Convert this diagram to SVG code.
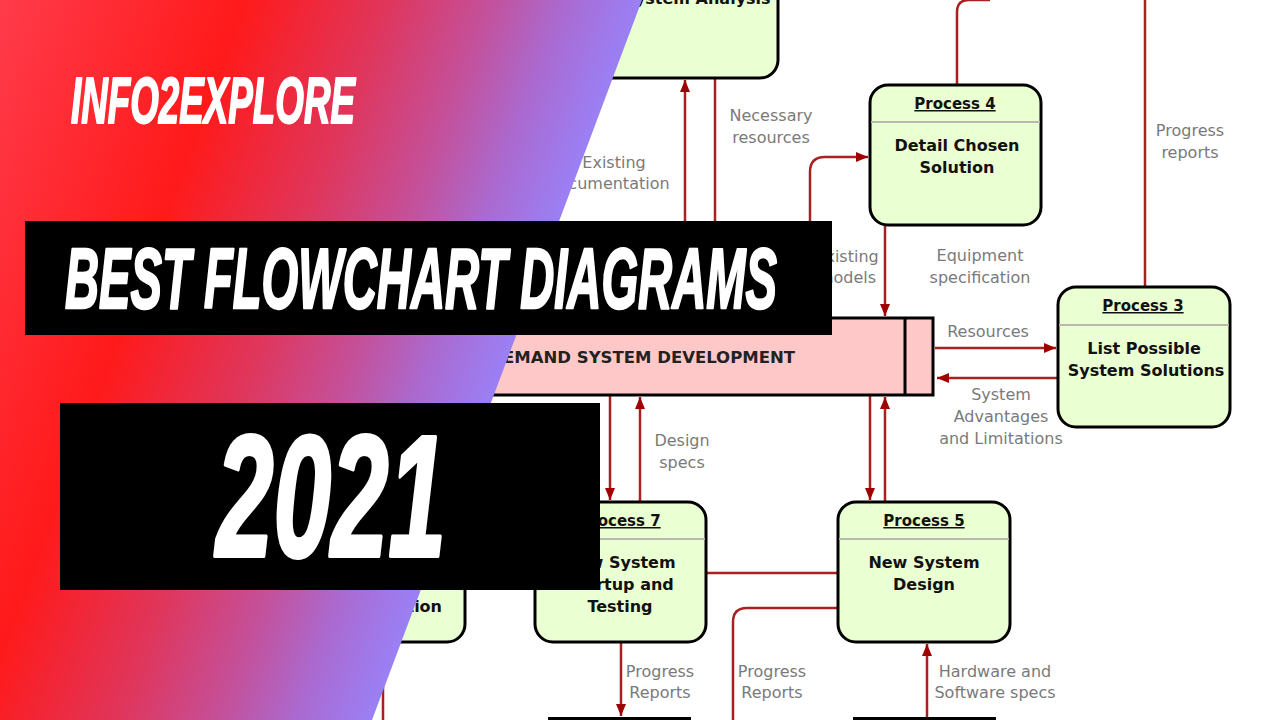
<svg xmlns="http://www.w3.org/2000/svg" width="1280" height="720" viewBox="0 0 1280 720">
<defs>
  <linearGradient id="bg" gradientUnits="userSpaceOnUse" x1="0" y1="0" x2="563" y2="211">
    <stop offset="0" stop-color="#ff3b4b"/>
    <stop offset="0.38" stop-color="#ff1a1a"/>
    <stop offset="0.6" stop-color="#e0355a"/>
    <stop offset="0.76" stop-color="#c4509a"/>
    <stop offset="0.88" stop-color="#aa6ad0"/>
    <stop offset="1" stop-color="#9a80f5"/>
  </linearGradient>
  <marker id="ah" viewBox="0 0 12 10" refX="12" refY="5" markerWidth="12" markerHeight="10" orient="auto" markerUnits="userSpaceOnUse">
    <path d="M0,0 L12,5 L0,10 z" fill="#a00000"/>
  </marker>
  <style>
    .box { fill:#eaffd2; stroke:#000; stroke-width:3; }
    .div { stroke:#b8b8b0; stroke-width:2; }
    .pt { font-family:"DejaVu Sans", sans-serif; font-weight:bold; font-size:16px; fill:#111; text-anchor:middle; }
    .ph { font-family:"DejaVu Sans", sans-serif; font-weight:bold; font-size:15px; fill:#111; text-anchor:middle; text-decoration:underline; }
    .lbl { font-family:"DejaVu Sans", sans-serif; font-size:16px; fill:#7a7a7a; text-anchor:middle; }
    .flow { fill:none; stroke:#a82020; stroke-width:2.5; }
    .title { font-family:"Liberation Sans", Arial, sans-serif; font-weight:bold; font-style:italic; fill:#fff; stroke:#fff; stroke-linejoin:round; }
  </style>
</defs>

<rect x="0" y="0" width="1280" height="720" fill="#fff"/>

<g id="connectors">
  <path class="flow" d="M685,318 V80" marker-end="url(#ah)"/>
  <path class="flow" d="M715,78 V316" marker-end="url(#ah)"/>
  <path class="flow" d="M810,318 V172 Q810,157 825,157 H868" marker-end="url(#ah)"/>
  <path class="flow" d="M885,225 V316" marker-end="url(#ah)"/>
  <path class="flow" d="M957,85 V12 Q957,0 969,0 H990"/>
  <path class="flow" d="M1145,-5 V287"/>
  <path class="flow" d="M935,348 H1056" marker-end="url(#ah)"/>
  <path class="flow" d="M1058,378 H937" marker-end="url(#ah)"/>
  <path class="flow" d="M610,395 V500" marker-end="url(#ah)"/>
  <path class="flow" d="M640,502 V397" marker-end="url(#ah)"/>
  <path class="flow" d="M870,395 V500" marker-end="url(#ah)"/>
  <path class="flow" d="M885,502 V397" marker-end="url(#ah)"/>
  <path class="flow" d="M706,573 H838"/>
  <path class="flow" d="M838,608 H747 Q733,608 733,622 V725"/>
  <path class="flow" d="M621,642 V716" marker-end="url(#ah)"/>
  <path class="flow" d="M927,725 V644" marker-end="url(#ah)"/>
  <path class="flow" d="M383,642 V725"/>

  <text class="lbl" x="771" y="121">Necessary</text>
  <text class="lbl" x="771" y="143">resources</text>
  <text class="lbl" x="614" y="168">Existing</text>
  <text class="lbl" x="609" y="189">documentation</text>
  <text class="lbl" x="1190" y="136">Progress</text>
  <text class="lbl" x="1190" y="158">reports</text>
  <text class="lbl" x="847" y="262">Existing</text>
  <text class="lbl" x="847" y="283">models</text>
  <text class="lbl" x="980" y="261">Equipment</text>
  <text class="lbl" x="980" y="283">specification</text>
  <text class="lbl" x="988" y="337">Resources</text>
  <text class="lbl" x="1001" y="400">System</text>
  <text class="lbl" x="1001" y="422">Advantages</text>
  <text class="lbl" x="1001" y="444">and Limitations</text>
  <text class="lbl" x="682" y="446">Design</text>
  <text class="lbl" x="682" y="468">specs</text>
  <text class="lbl" x="660" y="677">Progress</text>
  <text class="lbl" x="660" y="698">Reports</text>
  <text class="lbl" x="772" y="677">Progress</text>
  <text class="lbl" x="772" y="698">Reports</text>
  <text class="lbl" x="995" y="677">Hardware and</text>
  <text class="lbl" x="995" y="698">Software specs</text>
</g>

<g id="system-analysis">
  <rect class="box" x="540" y="-80" width="238" height="158" rx="18"/>
  <text class="pt" x="697" y="4">System Analysis</text>
</g>

<g id="process4">
  <rect class="box" x="870" y="85" width="171" height="140" rx="18"/>
  <line class="div" x1="871" y1="122" x2="1040" y2="122"/>
  <text class="ph" x="955" y="109">Process 4</text>
  <text class="pt" x="957" y="151">Detail Chosen</text>
  <text class="pt" x="957" y="173">Solution</text>
</g>

<g id="process3">
  <rect class="box" x="1058" y="287" width="172" height="140" rx="18"/>
  <line class="div" x1="1059" y1="325" x2="1229" y2="325"/>
  <text class="ph" x="1143" y="311">Process 3</text>
  <text class="pt" x="1144" y="354">List Possible</text>
  <text class="pt" x="1146" y="376">System Solutions</text>
</g>

<g id="datastore">
  <rect x="380" y="318" width="553" height="77" fill="#ffc8c8" stroke="#000" stroke-width="3"/>
  <line x1="905" y1="318" x2="905" y2="395" stroke="#000" stroke-width="3"/>
  <text x="795" y="363" font-family="DejaVu Sans, sans-serif" font-weight="bold" font-size="16.5" fill="#222" text-anchor="end">DEMAND SYSTEM DEVELOPMENT</text>
</g>

<g id="process7">
  <rect class="box" x="535" y="502" width="171" height="140" rx="18"/>
  <line class="div" x1="536" y1="539" x2="705" y2="539"/>
  <text class="ph" x="620" y="526">Process 7</text>
  <text class="pt" x="620" y="568">New System</text>
  <text class="pt" x="620" y="590">Startup and</text>
  <text class="pt" x="620" y="612">Testing</text>
</g>

<g id="process5">
  <rect class="box" x="838" y="502" width="172" height="140" rx="18"/>
  <line class="div" x1="839" y1="539" x2="1009" y2="539"/>
  <text class="ph" x="924" y="526">Process 5</text>
  <text class="pt" x="924" y="568">New System</text>
  <text class="pt" x="924" y="590">Design</text>
</g>

<g id="process6">
  <rect class="box" x="295" y="502" width="170" height="140" rx="18"/>
  <text class="pt" x="442" y="612" style="text-anchor:end">Implementation</text>
</g>

<g id="entity-a">
  <rect x="548" y="717" width="143" height="10" fill="#000"/>
</g>
<g id="entity-b">
  <rect x="853" y="717" width="143" height="10" fill="#000"/>
</g>

<g id="banner">
  <polygon points="0,0 642,0 372,720 0,720" fill="url(#bg)"/>
  <text class="title" x="71" y="123" font-size="64" stroke-width="2" textLength="284" lengthAdjust="spacingAndGlyphs">INFO2EXPLORE</text>
  <rect x="25" y="221" width="807" height="114" fill="#000"/>
  <text class="title" x="65" y="308" font-size="86" stroke-width="2.5" textLength="712" lengthAdjust="spacingAndGlyphs">BEST FLOWCHART DIAGRAMS</text>
  <rect x="60" y="403" width="540" height="187" fill="#000"/>
  <text class="title" x="216" y="556" font-size="172" stroke-width="4" textLength="230" lengthAdjust="spacingAndGlyphs">2021</text>
</g>
</svg>
